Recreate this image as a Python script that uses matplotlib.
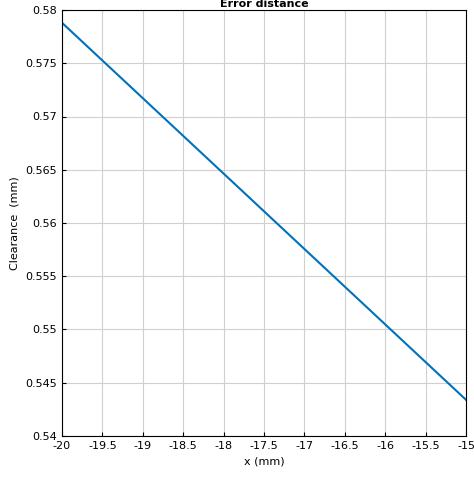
import matplotlib.pyplot as plt

x_mm = [-20.0, -17.5, -15.0]
clearance = [0.5788, 0.5611, 0.5434]
x_ticks = [-20, -19.5, -19, -18.5, -18, -17.5, -17, -16.5, -16, -15.5, -15]
y_ticks = [0.54, 0.545, 0.55, 0.555, 0.56, 0.565, 0.57, 0.575, 0.58]

fig = plt.figure(figsize=(4.74, 4.80), dpi=100)
ax = fig.add_axes([62 / 474, 44 / 480, 404 / 474, 426 / 480])
ax.plot(x_mm, clearance, color='#0072BD', linewidth=1.5)
ax.set_xlim(-20, -15)
ax.set_ylim(0.54, 0.58)
ax.set_xticks(x_ticks)
ax.set_xticklabels([f'{t:g}' for t in x_ticks])
ax.set_yticks(y_ticks)
ax.set_yticklabels([f'{t:g}' for t in y_ticks])
ax.tick_params(labelsize=8, direction='in', length=3)
ax.grid(True, color='#d0d0d0', linewidth=0.8)
for sp in ax.spines.values():
    sp.set_linewidth(0.8)
ax.set_title('Error distance', fontsize=8, fontweight='bold', pad=2)
ax.set_xlabel('x (mm)', fontsize=8)
ax.set_ylabel('Clearance  (mm)', fontsize=8)
fig.savefig('out.png', dpi=100)
